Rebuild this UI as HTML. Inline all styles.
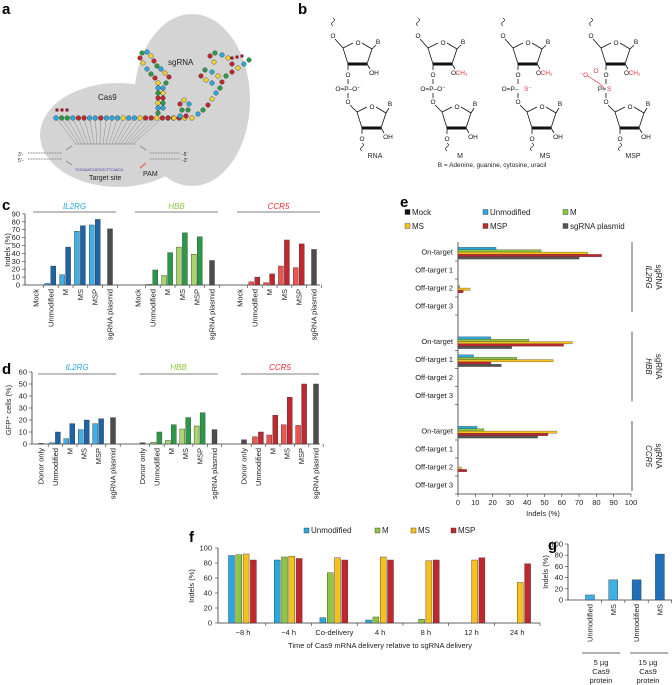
<!DOCTYPE html>
<html><head><meta charset="utf-8">
<style>
html,body{margin:0;padding:0;background:#fff;}
svg{display:block;font-family:"Liberation Sans",Arial,sans-serif;}
text{fill:#222;}
.pl{font-size:15px;font-weight:bold;fill:#000;}
.tk{font-size:7.5px;}
.ch{font-size:8px;}
</style></head>
<body>
<svg id="fig" width="672" height="685" viewBox="0 0 672 685">
  <text class="pl" x="2" y="14">a</text>
  <text class="pl" x="298" y="14">b</text>
  <text class="pl" x="2" y="210">c</text>
  <text class="pl" x="2" y="374">d</text>
  <text class="pl" x="400" y="207">e</text>
  <text class="pl" x="189" y="542">f</text>
  <text class="pl" x="548" y="550">g</text>

  <g id="pa">
    <ellipse cx="118" cy="135" rx="78" ry="52" fill="#d4d4d4"/>
    <ellipse cx="192" cy="100" rx="58" ry="86" fill="#d4d4d4"/>
    <text class="ch" x="98" y="100">Cas9</text>
    <text class="ch" x="168" y="65">sgRNA</text>
    <g id="dna"></g>
    <g id="dots"></g>
    <text x="89" y="180" style="font-size:7px">Target site</text>
    <text x="143" y="176" style="font-size:7px">PAM</text>
    <text x="75" y="171" style="font-size:3.5px;fill:#3a3aa0">TGGGAATGATGGCTTCAACA</text>
    <text x="18" y="156" style="font-size:5px">3′-</text>
    <text x="18" y="162" style="font-size:5px">5′-</text>
    <text x="182" y="156" style="font-size:5px">-5′</text>
    <text x="182" y="162" style="font-size:5px">-3′</text>
  </g>

  <g id="pb"></g>
  <text x="492" y="167" text-anchor="middle" style="font-size:6.5px">B = Adenine, guanine, cytosine, uracil</text>

  <g id="charts"></g>
</svg>
<script>
const cGenes = ['IL2RG','HBB','CCR5'];
const cCats = ['Mock','Unmodified','M','MS','MSP','sgRNA plasmid'];
const cYTicks = [0,10,20,30,40,50,60,70,80,90];
const cLight = [[2,13,68,76],[1,12,48,39],[4,3,24,22]];
const cDark = [[24,48,75,83],[19,41,66,61],[10,14,57,52]];
const cMock = [0,0,0];
const cPlasmid = [71,31,45];

const dCats = ['Donor only','Unmodified','M','MS','MSP','sgRNA plasmid'];
const dYTicks = [0,10,20,30,40,50,60];
const dLight = [[1,4.5,12,17],[1.5,3,12.5,15],[6,7.5,16,15.5]];
const dDark = [[10,17,20,21],[10,16,22,26],[10,24,39,50]];
const dDonor = [0.5,1,3.5];
const dPlasmid = [22,12,50];

const eSeries = ['Mock','Unmodified','M','MS','MSP','sgRNA plasmid'];
const eRows = ['On-target','Off-target 1','Off-target 2','Off-target 3'];
const eXTicks = [0,10,20,30,40,50,60,70,80,90,100];
const eIL2RG = [[0,22,48,75,83,70],[0,0,0,0,0,0],[0,0,1,7,3,0],[0,0,0,0,0,0]];
const eHBB = [[0,19,41,66,61,31],[0,9,34,55,19,25],[0,0,0,0,0,0],[0,0,0,0,0,0]];
const eCCR5 = [[0,11,15,57,52,46],[0,0,0,0,0,0],[0,0,0,2,5,0],[0,0,0,0,0,0]];

const fSeries = ['Unmodified','M','MS','MSP'];
const fCats = ['\u22128 h','\u22124 h','Co-delivery','4 h','8 h','12 h','24 h'];
const fYTicks = [0,20,40,60,80,100];
const fUnmod = [90,84,7,4,0,0,0];
const fM = [91,88,67,8,5,0,0];
const fMS = [92,89,87,88,83,84,54];
const fMSP = [84,86,84,84,84,87,79];

const gCats = ['Unmodified','MS','Unmodified','MS'];
const gVals = [9,36,36,82];
const gYTicks = [0,20,40,60,80,100];

const NS='http://www.w3.org/2000/svg';
const root=document.getElementById('charts');
function mk(tag,attrs,parent,txt){
  const el=document.createElementNS(NS,tag);
  for(const k in attrs) el.setAttribute(k,attrs[k]);
  if(txt!==undefined) el.textContent=txt;
  (parent||root).appendChild(el);
  return el;
}
function grp(name){
  const g=document.createElementNS(NS,'g');
  
  
  root.appendChild(g); return g;
}
const STK='#333';

// panel c
(function(){
  const g=grp('panel-c-chart');
  const y=v=>285-v*0.79;
  const cx=(gi,i)=>36+gi*102+i*14.8;
  const ln=mk('line',{x1:25,y1:285,x2:320,y2:285,stroke:STK,'stroke-width':0.8},g);
  
  
  const ya=mk('line',{x1:25,y1:y(0),x2:25,y2:y(90),stroke:STK,'stroke-width':0.8},g);
  
  
  cYTicks.forEach(t=>{
    mk('line',{x1:22,y1:y(t),x2:25,y2:y(t),stroke:STK,'stroke-width':0.6},g);
    const tx=mk('text',{x:20,y:y(t)+2.5,'text-anchor':'end',class:'tk'},g,t);
    
    
  });
  const yt=mk('text',{x:10,y:250,'text-anchor':'middle',class:'tk',transform:'rotate(-90 10 250)'},g,'Indels (%)');
  
  
  const light=['#3fb0e5','#a9d56b','#ef5350'], dark=['#1c63a8','#2b9a48','#c1272d'], gc=['#29a8df','#8dc63f','#e8262b'];
  cGenes.forEach((gene,gi)=>{
    const x0=cx(gi,0)-3, x1=cx(gi,5)+6;
    mk('line',{x1:x0,y1:212,x2:x1,y2:212,stroke:'#555','stroke-width':0.8},g);
    const gt=mk('text',{x:(x0+x1)/2,y:209,'text-anchor':'middle',class:'ch','font-style':'italic',style:'fill:'+gc[gi]},g,gene);
    
    
    cCats.forEach((c,i)=>{
      const x=cx(gi,i);
      mk('line',{x1:x+7.4,y1:285,x2:x+7.4,y2:288,stroke:STK,'stroke-width':0.6},g);
      const lb=mk('text',{x:x+2.5,y:289,'text-anchor':'end',class:'tk',transform:`rotate(-90 ${x+2.5} 289)`},g,c);
      
      
    });
    const mv=cMock[gi];
    const mb=mk('rect',{x:cx(gi,0)-2.5,y:y(mv),width:5,height:y(0)-y(mv),fill:'#4d4d4d',stroke:STK,'stroke-width':0.4},g);
    
    
    for(let i=0;i<4;i++){
      const x=cx(gi,i+1);
      const a=mk('rect',{x:x-6,y:y(cLight[gi][i]),width:5,height:y(0)-y(cLight[gi][i]),fill:light[gi],stroke:STK,'stroke-width':0.4},g);
      
      
      const b=mk('rect',{x:x,y:y(cDark[gi][i]),width:5,height:y(0)-y(cDark[gi][i]),fill:dark[gi],stroke:STK,'stroke-width':0.4},g);
      
      
    }
    const pv=cPlasmid[gi];
    const pb=mk('rect',{x:cx(gi,5)-2.5,y:y(pv),width:5,height:y(0)-y(pv),fill:'#4d4d4d',stroke:STK,'stroke-width':0.4},g);
    
    
  });
})();

// panel d
(function(){
  const g=grp('panel-d-chart');
  const y=v=>444-v*1.2;
  const cx=(gi,i)=>41+gi*101.5+i*14.4;
  const xa=mk('line',{x1:32,y1:444,x2:320,y2:444,stroke:STK,'stroke-width':0.8},g);
  
  
  const ya=mk('line',{x1:32,y1:y(0),x2:32,y2:y(60),stroke:STK,'stroke-width':0.8},g);
  
  
  dYTicks.forEach(t=>{
    mk('line',{x1:29,y1:y(t),x2:32,y2:y(t),stroke:STK,'stroke-width':0.6},g);
    const tx=mk('text',{x:27,y:y(t)+2.5,'text-anchor':'end',class:'tk'},g,t);
    
    
  });
  const yt=mk('text',{x:11,y:410,'text-anchor':'middle',class:'tk',transform:'rotate(-90 11 410)'},g,'GFP\u207A cells (%)');
  
  
  const light=['#3fb0e5','#a9d56b','#ef5350'], dark=['#1c63a8','#2b9a48','#c1272d'], gc=['#29a8df','#8dc63f','#e8262b'];
  cGenes.forEach((gene,gi)=>{
    const x0=cx(gi,0)-3, x1=cx(gi,5)+3;
    mk('line',{x1:x0,y1:374,x2:x1,y2:374,stroke:'#555','stroke-width':0.8},g);
    const gt=mk('text',{x:(x0+x1)/2,y:370,'text-anchor':'middle',class:'ch','font-style':'italic',style:'fill:'+gc[gi]},g,gene);
    
    
    dCats.forEach((c,i)=>{
      const x=cx(gi,i);
      mk('line',{x1:x+7.2,y1:444,x2:x+7.2,y2:447,stroke:STK,'stroke-width':0.6},g);
      const lb=mk('text',{x:x+2.5,y:448,'text-anchor':'end',class:'tk',transform:`rotate(-90 ${x+2.5} 448)`},g,c);
      
      
    });
    const dv=dDonor[gi];
    const db=mk('rect',{x:cx(gi,0)-2.5,y:y(dv),width:5,height:y(0)-y(dv),fill:'#4d4d4d',stroke:STK,'stroke-width':0.4},g);
    
    
    for(let i=0;i<4;i++){
      const x=cx(gi,i+1);
      const a=mk('rect',{x:x-6,y:y(dLight[gi][i]),width:5,height:y(0)-y(dLight[gi][i]),fill:light[gi],stroke:STK,'stroke-width':0.4},g);
      
      
      const b=mk('rect',{x:x,y:y(dDark[gi][i]),width:5,height:y(0)-y(dDark[gi][i]),fill:dark[gi],stroke:STK,'stroke-width':0.4},g);
      
      
    }
    const pv=dPlasmid[gi];
    const pb=mk('rect',{x:cx(gi,5)-2.5,y:y(pv),width:5,height:y(0)-y(pv),fill:'#4d4d4d',stroke:STK,'stroke-width':0.4},g);
    
    
  });
})();

// panel e
(function(){
  const g=grp('panel-e-chart');
  const x=v=>458+v*1.73;
  const rowY=(gi,r)=>252+gi*89.5+r*18;
  const cols=['#111','#29a8df','#8dc63f','#f7c01d','#c1272d','#555'];
  const lx=[407,485,565];
  eSeries.forEach((s,i)=>{
    const px=lx[i%3], py=i<3?215:229;
    const sq=mk('rect',{x:px-2,y:py-5.5,width:5,height:5,fill:cols[i],stroke:STK,'stroke-width':0.4},g);
    
    
    const t=mk('text',{x:px+5,y:py,class:'ch'},g,s);
    
    
  });
  const ya=mk('line',{x1:458,y1:242,x2:458,y2:494,stroke:STK,'stroke-width':0.8},g);
  
  
  const xa=mk('line',{x1:458,y1:494,x2:x(100),y2:494,stroke:STK,'stroke-width':0.8},g);
  
  
  eXTicks.forEach(t=>{
    mk('line',{x1:x(t),y1:494,x2:x(t),y2:497,stroke:STK,'stroke-width':0.6},g);
    const tx=mk('text',{x:x(t),y:505,'text-anchor':'middle',class:'tk'},g,t);
    
    
  });
  const xt=mk('text',{x:543,y:516,'text-anchor':'middle',class:'tk'},g,'Indels (%)');
  
  
  const data=[eIL2RG,eHBB,eCCR5];
  cGenes.forEach((gene,gi)=>{
    eRows.forEach((r,ri)=>{
      const yy=rowY(gi,ri);
      mk('line',{x1:455,y1:yy+9,x2:458,y2:yy+9,stroke:STK,'stroke-width':0.6},g);
      const lb=mk('text',{x:453,y:yy+2.5,'text-anchor':'end',class:'tk'},g,r);
      
      
      data[gi][ri].forEach((v,si)=>{
        if(v<=0) return;
        const b=mk('rect',{x:458,y:yy-7+si*2.35,width:x(v)-458,height:2.35,fill:cols[si],stroke:STK,'stroke-width':0.3},g);
        
        
      });
    });
    const top=rowY(gi,0)-10, bot=rowY(gi,3)+6;
    mk('line',{x1:632,y1:top,x2:632,y2:bot,stroke:STK,'stroke-width':0.8},g);
    const cy=(top+bot)/2;
    const t1=mk('text',{x:646,y:cy,'text-anchor':'middle',class:'ch','font-style':'italic',transform:`rotate(90 646 ${cy})`},g,gene);
    
    
    const t2=mk('text',{x:656,y:cy,'text-anchor':'middle',class:'ch',transform:`rotate(90 656 ${cy})`},g,'sgRNA');
    
    
  });
})();

// panel f
(function(){
  const g=grp('panel-f-chart');
  const y=v=>623-v*0.75;
  const gx=i=>243+i*45.7;
  const cols=['#29a8df','#8dc63f','#f7c01d','#c1272d'];
  const lx=[306,377,413,453];
  fSeries.forEach((s,i)=>{
    const sq=mk('rect',{x:lx[i]-2,y:528,width:5,height:5,fill:cols[i],stroke:STK,'stroke-width':0.4},g);
    
    
    const t=mk('text',{x:lx[i]+5,y:533,class:'ch'},g,s);
    
    
  });
  const xa=mk('line',{x1:218,y1:623,x2:540,y2:623,stroke:STK,'stroke-width':0.8},g);
  
  
  const ya=mk('line',{x1:218,y1:y(0),x2:218,y2:y(100),stroke:STK,'stroke-width':0.8},g);
  
  
  fYTicks.forEach(t=>{
    mk('line',{x1:215,y1:y(t),x2:218,y2:y(t),stroke:STK,'stroke-width':0.6},g);
    const tx=mk('text',{x:212,y:y(t)+2.5,'text-anchor':'end',class:'tk'},g,t);
    
    
  });
  const yt=mk('text',{x:194,y:586,'text-anchor':'middle',class:'tk',transform:'rotate(-90 194 586)'},g,'Indels (%)');
  
  
  const series=[fUnmod,fM,fMS,fMSP];
  fCats.forEach((c,i)=>{
    const cx=gx(i);
    mk('line',{x1:cx+22.8,y1:623,x2:cx+22.8,y2:626,stroke:STK,'stroke-width':0.6},g);
    const lb=mk('text',{x:cx,y:635,'text-anchor':'middle',class:'tk'},g,c);
    
    
    series.forEach((arr,si)=>{
      const v=arr[i]; if(v<=0) return;
      const b=mk('rect',{x:cx-14.5+si*7.3,y:y(v),width:6,height:y(0)-y(v),fill:cols[si],stroke:STK,'stroke-width':0.4},g);
      
      
    });
  });
  const xt=mk('text',{x:380,y:648,'text-anchor':'middle',class:'tk'},g,'Time of Cas9 mRNA delivery relative to sgRNA delivery');
  
  
})();

// panel g
(function(){
  const g=grp('panel-g-chart');
  const y=v=>600-v*0.56;
  const bx=i=>590+i*23.3;
  const cols=['#3fb0e5','#3fb0e5','#1f70b8','#1f70b8'];
  const xa=mk('line',{x1:568,y1:600,x2:672,y2:600,stroke:STK,'stroke-width':0.8},g);
  
  
  const ya=mk('line',{x1:568,y1:y(0),x2:568,y2:y(100),stroke:STK,'stroke-width':0.8},g);
  
  
  gYTicks.forEach(t=>{
    mk('line',{x1:565,y1:y(t),x2:568,y2:y(t),stroke:STK,'stroke-width':0.6},g);
    const tx=mk('text',{x:563,y:y(t)+2.5,'text-anchor':'end',class:'tk'},g,t);
    
    
  });
  const yt=mk('text',{x:548,y:572,'text-anchor':'middle',class:'tk',transform:'rotate(-90 548 572)'},g,'Indels (%)');
  
  
  gCats.forEach((c,i)=>{
    const x=bx(i), v=gVals[i];
    const b=mk('rect',{x:x-4.5,y:y(v),width:9,height:y(0)-y(v),fill:cols[i],stroke:STK,'stroke-width':0.4},g);
    
    
    mk('line',{x1:x+11.6,y1:600,x2:x+11.6,y2:603,stroke:STK,'stroke-width':0.6},g);
    const lb=mk('text',{x:x+2.5,y:604,'text-anchor':'end',class:'tk',transform:`rotate(-90 ${x+2.5} 604)`},g,c);
    
    
  });
  [[582,620,601,'5 \u00B5g'],[630,668,648,'15 \u00B5g']].forEach(a=>{
    mk('line',{x1:a[0],y1:653,x2:a[1],y2:653,stroke:STK,'stroke-width':0.8},g);
    const t1=mk('text',{x:a[2],y:665,'text-anchor':'middle',class:'tk'},g,a[3]);
    
    
    const t2=mk('text',{x:a[2],y:674,'text-anchor':'middle',class:'tk'},g,'Cas9');
    
    
    const t3=mk('text',{x:a[2],y:683,'text-anchor':'middle',class:'tk'},g,'protein');
    
    
  });
})();

// panel a decoration
(function(){
  const dots=document.getElementById('dots'), dna=document.getElementById('dna');
  const pal=['#29a8df','#2b9a48','#c1272d','#f2d12e'];
  const seq=[0,1,1,0,2,2,0,0,2,0,0,0,3,0,0,3,2,2,3,2,1,2,2,3];
  mk('line',{x1:28,y1:153,x2:62,y2:153,stroke:'#999','stroke-width':1.2,'stroke-dasharray':'1 0.6'},dna);
  mk('line',{x1:28,y1:159,x2:62,y2:159,stroke:'#999','stroke-width':1.2,'stroke-dasharray':'1 0.6'},dna);
  mk('line',{x1:150,y1:153,x2:180,y2:153,stroke:'#999','stroke-width':1.2,'stroke-dasharray':'1 0.6'},dna);
  mk('line',{x1:150,y1:159,x2:180,y2:159,stroke:'#999','stroke-width':1.2,'stroke-dasharray':'1 0.6'},dna);
  mk('line',{x1:75,y1:144,x2:135,y2:144,stroke:'#999','stroke-width':1.2,'stroke-dasharray':'1 0.6'},dna);
  mk('line',{x1:66,y1:150,x2:72,y2:146,stroke:'#999','stroke-width':1.2},dna);
  mk('line',{x1:66,y1:161,x2:72,y2:165,stroke:'#999','stroke-width':1.2},dna);
  mk('line',{x1:140,y1:146,x2:146,y2:150,stroke:'#999','stroke-width':1.2},dna);
  mk('line',{x1:140,y1:168,x2:146,y2:163,stroke:'#d88','stroke-width':2},dna);
  for(let i=0;i<seq.length;i++){
    const x=56+i*5.6;
    if(i<20) mk('line',{x1:x,y1:118,x2:76+i*3,y2:144,stroke:'#777','stroke-width':0.4},dots);
  }
  seq.forEach((s,i)=>mk('circle',{cx:56+i*5.6,cy:118,r:2.4,fill:pal[s],stroke:'#333','stroke-width':0.4},dots));
  const stem1=[[158,113],[158,108],[158,103],[158,98],[158,93],[158,88],[158,83],[155,78],[151,74],[147,69],[143,63],[140,58],[142,53],[147,52],[151,56],[154,61],[157,66],[161,69],[165,73],[169,77],[166,83],[163,88],[163,93],[163,98],[163,103],[163,108]];
  stem1.forEach((p,i)=>mk('circle',{cx:p[0],cy:p[1],r:2.3,fill:pal[(i*3+1)%4],stroke:'#333','stroke-width':0.4},dots));
  const stem2=[[168,118],[174,118],[180,116],[182,110],[180,104],[184,100],[189,104],[188,110],[186,116],[192,118],[198,114],[203,110],[208,105],[212,99],[216,93],[220,88],[222,82],[218,76],[212,72],[205,70],[201,76],[206,80],[212,83],[226,76],[232,72],[238,68],[244,64],[249,60],[232,64],[228,58],[222,55],[215,53],[210,56],[214,62]];
  stem2.forEach((p,i)=>mk('circle',{cx:p[0],cy:p[1],r:2.3,fill:pal[(i*5+2)%4],stroke:'#333','stroke-width':0.4},dots));
  [[57,110],[62,110],[67,110],[232,58],[237,57],[242,56]].forEach(p=>mk('rect',{x:p[0]-1.5,y:p[1]-1.5,width:3,height:3,fill:'#8b1a2b'},dots));
})();

// panel b structures
(function(){
  const pb=document.getElementById('pb');
  const offs=[0,85,170,258], names=['RNA','M','MS','MSP'];
  offs.forEach((dx,k)=>{
    const s=document.createElementNS(NS,'g');
    s.setAttribute('transform',`translate(${dx},0)`);
    
    
    pb.appendChild(s);
    const L=(a,b,c,d,w)=>mk('line',{x1:a,y1:b,x2:c,y2:d,stroke:'#111','stroke-width':w||0.8},s);
    const T=(x,y,t,col,anch)=>mk('text',{x:x,y:y,'text-anchor':anch||'middle',style:'font-size:6.5px;fill:'+(col||'#111')},s,t);
    mk('path',{d:'M333,18 q3,2 0,4 q-3,2 0,4',fill:'none',stroke:'#111','stroke-width':0.7},s);
    T(333,38,'O');
    L(335,39,343,48);
    L(343,48,353,43); L(362,43,372,49); L(372,49,367,64); L(343,48,348,64);
    L(348,64,367,64,3);
    T(358,45,'O'); T(378,44,'B'); L(372,49,376,45);
    L(367,64,370,69);
    if(k===0) T(374,75,'OH'); else { T(366,75,'O','#111','start'); T(370.5,75,'CH\u2083','#e0303a','start'); }
    L(348,64,348,70); T(348,77,'O'); L(348,79,348,84);
    if(k<2){ T(348,91,'O=P\u2013O\u207B'); }
    else if(k===2){ T(340,91,'O=P\u2013','#111'); T(358,91,'S\u207B','#e0303a'); }
    else { T(348,91,'P=','#111','end'); T(349,91,'S','#e0303a','start'); T(326,77,'\u207BO','#e0303a'); T(338,73,'O','#e0303a'); mk('path',{d:'M330,76 L336,80 L342,84 L346,88',fill:'none',stroke:'#e0303a','stroke-width':0.7},s); }
    L(348,93,348,98); T(348,104,'O'); L(350,105,357,112);
    L(357,112,367,107); L(376,107,386,113); L(386,113,381,128); L(357,112,362,128);
    L(362,128,381,128,3);
    T(372,109,'O'); T(390,106,'B'); L(386,113,389,108);
    L(381,128,384,133); T(388,139,'OH');
    L(362,128,362,134); T(362,141,'O');
    mk('path',{d:'M362,143 q3,2 0,4 q-3,2 0,4',fill:'none',stroke:'#111','stroke-width':0.7},s);
    const lb=mk('text',{x:375,y:158,'text-anchor':'middle',style:'font-size:7px'},s,names[k]);
    
    
  });
})();
</script>
</body></html>
